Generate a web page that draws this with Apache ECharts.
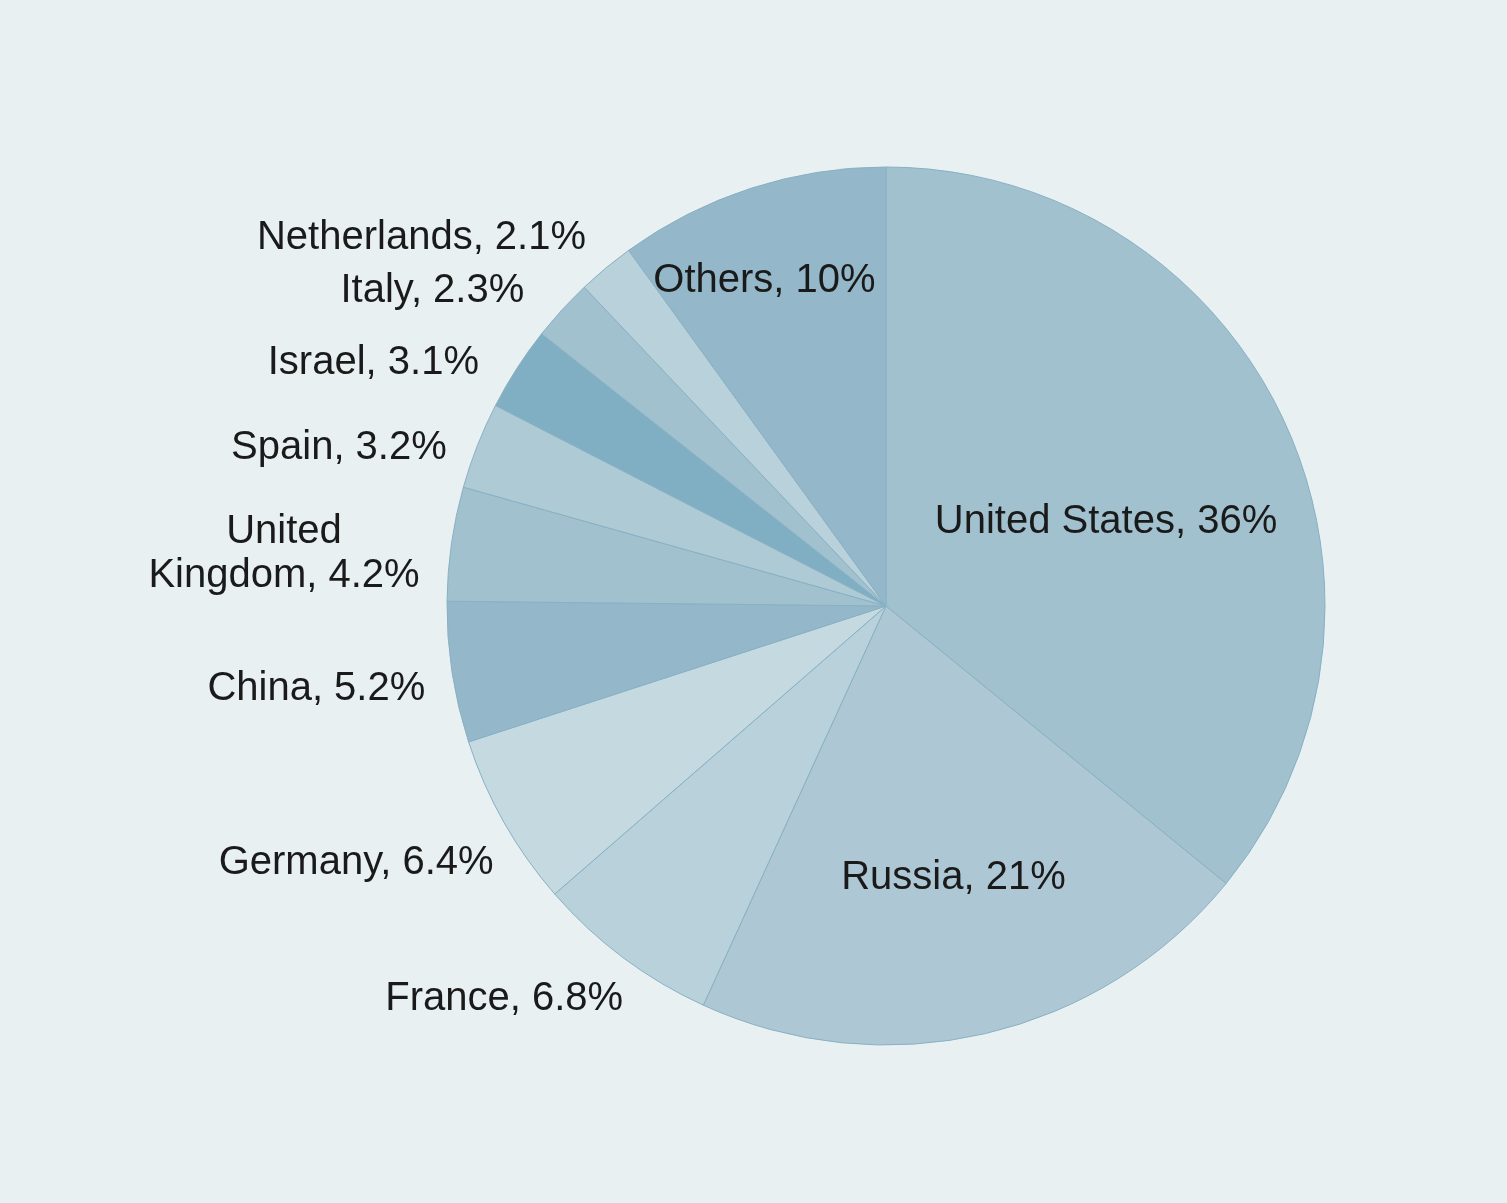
<!DOCTYPE html>
<html>
<head>
    <meta charset="utf-8">
    <title>Pie</title>
    <script src="https://cdn.jsdelivr.net/npm/echarts@6/dist/echarts.min.js"></script>
    <style>
        html, body { margin: 0; padding: 0; background: #e8f0f2; }
        #chart { width: 1507px; height: 1203px; }
    </style>
</head>
<body>
<div id="chart"></div>
<script type="text/javascript">
    // 数据
    var countries = ['United States', 'Russia', 'France', 'Germany', 'China', 'United\nKingdom',
        'Spain', 'Israel', 'Italy', 'Netherlands', 'Others'];
    var shares = [36, 21, 6.8, 6.4, 5.2, 4.2, 3.2, 3.1, 2.3, 2.1, 10];
    var shareLabels = ['36%', '21%', '6.8%', '6.4%', '5.2%', '4.2%', '3.2%', '3.1%', '2.3%', '2.1%', '10%'];
    var sliceColors = ['#a2c1cf', '#adc8d4', '#b9d1da', '#c5d9e0', '#94b8c9', '#a2c1cf',
        '#aecad5', '#80afc4', '#a2c1cf', '#b9d1da', '#94b8c9'];
    // 标签微调（像素偏移）
    var insideIdx = [0, 1, 10];
    var labelOffsets = [[19, 11], [17, 55], [17, 25], [12, 31], [-2, 14], [-7, 13],
        [-7, 10], [-16, 5], [-18, -5], [-2, -15], [-53, -113]];

    var pieData = countries.map(function (name, i) {
        var item = {
            name: name,
            value: shares[i],
            itemStyle: { color: sliceColors[i] },
            label: { offset: labelOffsets[i] }
        };
        if (insideIdx.indexOf(i) >= 0) {
            item.label.position = 'inside';
        }
        return item;
    });

    var myChart = echarts.init(document.getElementById('chart'));
    myChart.setOption({
        backgroundColor: '#e8f0f2',
        animation: false,
        series: [
            {
                type: 'pie',
                center: [886, 606],
                radius: 439,
                startAngle: 90,
                clockwise: true,
                avoidLabelOverlap: true,
                data: pieData,
                itemStyle: { borderColor: '#88b1c4', borderWidth: 1 },
                label: {
                    position: 'outside',
                    color: '#1a1a1a',
                    fontFamily: 'Liberation Sans',
                    fontSize: 40,
                    lineHeight: 44,
                    formatter: function (p) {
                        return p.name + ', ' + shareLabels[p.dataIndex];
                    }
                },
                labelLine: { show: false, length: 20, length2: 0 },
                emphasis: { disabled: true }
            }
        ]
    });
    // 英国标签两行居中
    myChart.setOption({
        series: [{
            labelLayout: function (params) {
                if (params.dataIndex === 5) {
                    return { align: 'center', x: params.labelRect.x + params.labelRect.width / 2 };
                }
            }
        }]
    });
</script>
</body>
</html>
